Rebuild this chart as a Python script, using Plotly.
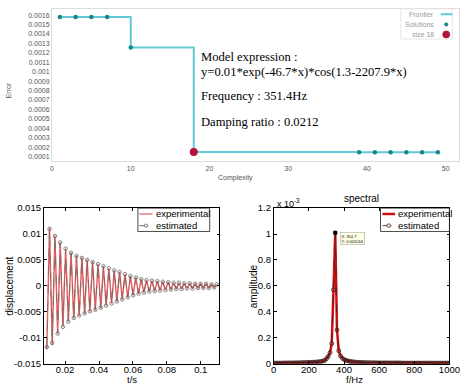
import plotly.graph_objects as go

# ---------------- Top panel: Pareto frontier ----------------
complexity = [1, 3, 5, 7, 10, 18, 39, 41, 43, 45, 47, 49]
error = [0.00158, 0.00158, 0.00158, 0.00158, 0.001255, 0.000150,
         0.000146, 0.000146, 0.000146, 0.000146, 0.000146, 0.000146]
selected_complexity = [18]
selected_error = [0.000150]
error_ticks = [0.0001, 0.0002, 0.0003, 0.0004, 0.0005, 0.0006, 0.0007, 0.0008,
               0.0009, 0.001, 0.0011, 0.0012, 0.0013, 0.0014, 0.0015, 0.0016]
error_tick_labels = ["0.0001", "0.0002", "0.0003", "0.0004", "0.0005", "0.0006",
                     "0.0007", "0.0008", "0.0009", "0.001", "0.0011", "0.0012",
                     "0.0013", "0.0014", "0.0015", "0.0016"]
complexity_ticks = [0, 10, 20, 30, 40, 50]
model_text = ["Model expression :",
              "y=0.01*exp(-46.7*x)*cos(1.3-2207.9*x)",
              "Frequency : 351.4Hz",
              "Damping ratio : 0.0212"]
top_legend_labels = ["Frontier", "Solutions", "size 18"]

# ---------------- Bottom-left: time response (extremes of the oscillation) ----------------
t_s = [0.0092, 0.0108, 0.0124, 0.0140, 0.0156, 0.0171, 0.0187, 0.0203, 0.0219, 0.0235,
       0.0251, 0.0267, 0.0283, 0.0299, 0.0315, 0.0330, 0.0346, 0.0362, 0.0378, 0.0394,
       0.0410, 0.0426, 0.0442, 0.0458, 0.0474, 0.0490, 0.0505, 0.0521, 0.0537, 0.0553,
       0.0569, 0.0585, 0.0601, 0.0617, 0.0633, 0.0649, 0.0664, 0.0680, 0.0696, 0.0712,
       0.0728, 0.0744, 0.0760, 0.0776, 0.0792, 0.0808, 0.0824, 0.0840, 0.0856, 0.0871,
       0.0887, 0.0903, 0.0919, 0.0935, 0.0951, 0.0967, 0.0983, 0.0999, 0.1015, 0.1031,
       0.1047, 0.1063, 0.1079, 0.1094]
disp_experimental = [-0.0122, 0.0112, -0.0114, 0.0097, -0.0092, 0.0083, -0.0078, 0.0070, -0.0068, 0.0064,
                     -0.0063, 0.0059, -0.0058, 0.0055, -0.0054, 0.0051, -0.0050, 0.0047, -0.0047, 0.0042,
                     -0.0043, 0.0038, -0.0038, 0.0034, -0.0034, 0.0030, -0.0030, 0.0027, -0.0026, 0.0023,
                     -0.0022, 0.0019, -0.0018, 0.0016, -0.0015, 0.0013, -0.0013, 0.0011, -0.0011, 0.0010,
                     -0.0010, 0.0009, -0.0009, 0.0008, -0.0008, 0.0007, -0.0007, 0.0006, -0.0006, 0.0006,
                     -0.0006, 0.0005, -0.0005, 0.0005, -0.0005, 0.0004, -0.0004, 0.0004, -0.0004, 0.0004,
                     -0.0004, 0.0003, -0.0003, 0.0003]
disp_estimated = [-0.0118, 0.0110, -0.0110, 0.0096, -0.0092, 0.0084, -0.0079, 0.0072, -0.0069, 0.0064,
                  -0.0062, 0.0058, -0.0057, 0.0054, -0.0053, 0.0050, -0.0049, 0.0046, -0.0046, 0.0042,
                  -0.0042, 0.0038, -0.0038, 0.0034, -0.0034, 0.0030, -0.0030, 0.0027, -0.0026, 0.0023,
                  -0.0022, 0.0019, -0.0018, 0.0016, -0.0015, 0.0013, -0.0013, 0.0011, -0.0011, 0.0010,
                  -0.0010, 0.0009, -0.0009, 0.0008, -0.0008, 0.0007, -0.0007, 0.0006, -0.0006, 0.0006,
                  -0.0006, 0.0005, -0.0005, 0.0005, -0.0005, 0.0004, -0.0004, 0.0004, -0.0004, 0.0004,
                  -0.0004, 0.0003, -0.0003, 0.0003]
disp_ticks = [-0.015, -0.01, -0.005, 0, 0.005, 0.01, 0.015]
disp_tick_labels = ["-0.015", "-0.01", "-0.005", "0", "0.005", "0.01", "0.015"]
t_ticks = [0.02, 0.04, 0.06, 0.08, 0.1]
t_tick_labels = ["0.02", "0.04", "0.06", "0.08", "0.1"]

# ---------------- Bottom-right: spectrum (amplitude in units of 1e-3) ----------------
freq_hz = list(range(0, 1001, 10))
amp_experimental = [0.004, 0.004, 0.004, 0.004, 0.004, 0.004, 0.005, 0.005, 0.005, 0.005, 0.005,
                    0.005, 0.006, 0.006, 0.006, 0.007, 0.007, 0.008, 0.008, 0.009, 0.009,
                    0.010, 0.010, 0.011, 0.012, 0.013, 0.015, 0.017, 0.020, 0.025, 0.038,
                    0.055, 0.085, 0.155, 0.570, 1.010, 0.260, 0.100, 0.060, 0.042, 0.032,
                    0.026, 0.021, 0.018, 0.016, 0.014, 0.012, 0.011, 0.010, 0.009, 0.009,
                    0.008, 0.008, 0.007, 0.007, 0.007, 0.006, 0.006, 0.006, 0.006, 0.005,
                    0.005, 0.005, 0.005, 0.005, 0.005, 0.005, 0.005, 0.005, 0.005, 0.005,
                    0.005, 0.005, 0.004, 0.004, 0.004, 0.004, 0.004, 0.004, 0.004, 0.004,
                    0.004, 0.004, 0.004, 0.004, 0.004, 0.004, 0.004, 0.004, 0.004, 0.004,
                    0.004, 0.004, 0.004, 0.004, 0.004, 0.004, 0.004, 0.004, 0.004, 0.004]
amp_estimated = [0.004, 0.004, 0.004, 0.004, 0.004, 0.004, 0.005, 0.005, 0.005, 0.005, 0.005,
                 0.005, 0.006, 0.006, 0.006, 0.007, 0.007, 0.008, 0.008, 0.009, 0.009,
                 0.010, 0.010, 0.011, 0.012, 0.013, 0.015, 0.017, 0.020, 0.025, 0.038,
                 0.055, 0.085, 0.155, 0.570, 1.010, 0.260, 0.100, 0.060, 0.042, 0.032,
                 0.026, 0.021, 0.018, 0.016, 0.014, 0.012, 0.011, 0.010, 0.009, 0.009,
                 0.008, 0.008, 0.007, 0.007, 0.007, 0.006, 0.006, 0.006, 0.006, 0.005,
                 0.005, 0.005, 0.005, 0.005, 0.005, 0.005, 0.005, 0.005, 0.005, 0.005,
                 0.005, 0.005, 0.004, 0.004, 0.004, 0.004, 0.004, 0.004, 0.004, 0.004,
                 0.004, 0.004, 0.004, 0.004, 0.004, 0.004, 0.004, 0.004, 0.004, 0.004,
                 0.004, 0.004, 0.004, 0.004, 0.004, 0.004, 0.004, 0.004, 0.004, 0.004]
peak_freq = [350]
peak_amp = [1.010]
datatip_text = "X: 354.7<br>Y: 0.001016"
amp_ticks = [0, 0.2, 0.4, 0.6, 0.8, 1.0, 1.2]
amp_tick_labels = ["0", "0.2", "0.4", "0.6", "0.8", "1", "1.2"]
freq_ticks = [0, 200, 400, 600, 800, 1000]
series_labels = ["experimental", "estimated"]

# ---------------- layout helpers ----------------
W, H = 474, 391


def fx(p):
    return p / W


def fy(p):
    return 1 - p / H


SANS = "Liberation Sans, Arial, sans-serif"
SERIF = "Liberation Serif, Times New Roman, serif"
CYAN = "#63c8d6"
TEAL = "#17878f"
RED_SEL = "#b5103a"
RED_T = "#e25c5c"
GRAY_T = "#6a6a6a"
RED_F = "#d01010"
DARK_F = "#3a2020"

fig = go.Figure()

# top panel
fig.add_trace(go.Scatter(x=complexity, y=error, mode="lines", line=dict(color=CYAN, width=2, shape="hv"),
                         xaxis="x", yaxis="y", hoverinfo="skip"))
fig.add_trace(go.Scatter(x=complexity, y=error, mode="markers", marker=dict(color=TEAL, size=4.5),
                         xaxis="x", yaxis="y"))
fig.add_trace(go.Scatter(x=selected_complexity, y=selected_error, mode="markers",
                         marker=dict(color=RED_SEL, size=8), xaxis="x", yaxis="y"))

# bottom-left
fig.add_trace(go.Scatter(x=t_s, y=disp_experimental, mode="lines", name=series_labels[0],
                         line=dict(color=RED_T, width=1.4), xaxis="x2", yaxis="y2"))
fig.add_trace(go.Scatter(x=t_s, y=disp_estimated, mode="lines+markers", name=series_labels[1],
                         line=dict(color=GRAY_T, width=1, dash="dash"),
                         marker=dict(symbol="circle-open", size=3.5, color="#5a5a5a", line=dict(width=1)),
                         opacity=0.75, xaxis="x2", yaxis="y2"))

# bottom-right
fig.add_trace(go.Scatter(x=freq_hz, y=amp_experimental, mode="lines", name=series_labels[0],
                         line=dict(color=RED_F, width=2.5), xaxis="x3", yaxis="y3"))
fig.add_trace(go.Scatter(x=freq_hz, y=amp_estimated, mode="lines+markers", name=series_labels[1],
                         line=dict(color=DARK_F, width=0.8, dash="dash"),
                         marker=dict(symbol="circle-open", size=4, color=DARK_F, line=dict(width=0.8)),
                         xaxis="x3", yaxis="y3"))
fig.add_trace(go.Scatter(x=peak_freq, y=peak_amp, mode="markers",
                         marker=dict(symbol="square", size=3.5, color="black"),
                         xaxis="x3", yaxis="y3"))

top_axis_common = dict(showgrid=False, zeroline=False, showline=True, linecolor="#dcdcdc",
                       linewidth=1, mirror=True, ticks="",
                       tickfont=dict(family=SANS, size=7, color="#555555"))
matlab_axis = dict(showgrid=False, zeroline=False, showline=True, linecolor="black", linewidth=0.8,
                   mirror="ticks", ticks="inside", ticklen=3, tickcolor="black", tickwidth=0.8,
                   tickfont=dict(family=SANS, size=9.5, color="black"))

fig.update_layout(
    width=W, height=H,
    margin=dict(l=0, r=0, t=0, b=0),
    paper_bgcolor="white", plot_bgcolor="white",
    showlegend=False,
    xaxis=dict(domain=[fx(50.5), fx(470)], range=[0, 51.7], tickvals=complexity_ticks,
               anchor="y", **top_axis_common),
    yaxis=dict(domain=[fy(160), fy(3)], range=[0.0000485, 0.001665], tickvals=error_ticks,
               ticktext=error_tick_labels, anchor="x", **top_axis_common),
    xaxis2=dict(domain=[fx(42), fx(223)], range=[0.0074, 0.111], tickvals=t_ticks,
                ticktext=t_tick_labels, anchor="y2", ticklabelstandoff=-3, **matlab_axis),
    yaxis2=dict(domain=[fy(368), fy(208)], range=[-0.015, 0.015], tickvals=disp_ticks,
                ticktext=disp_tick_labels, anchor="x2", **matlab_axis),
    xaxis3=dict(domain=[fx(279), fx(460)], range=[0, 1000], tickvals=freq_ticks,
                anchor="y3", ticklabelstandoff=-3, **matlab_axis),
    yaxis3=dict(domain=[fy(368), fy(208)], range=[0, 1.2], tickvals=amp_ticks,
                ticktext=amp_tick_labels, anchor="x3", **matlab_axis),
)


def label(text, x, y, size, color="black", family=SANS, xanchor="center", yanchor="middle", angle=0, **kw):
    return dict(text=text, x=fx(x), y=fy(y), xref="paper", yref="paper", xanchor=xanchor,
                yanchor=yanchor, showarrow=False, textangle=angle,
                font=dict(family=family, size=size, color=color), **kw)


ann = []
for txt, yy in zip(model_text, [52, 68, 93, 119]):
    ann.append(label(txt, 202, yy, 12.6, family=SERIF, xanchor="left"))
ann.append(label("Error", 6, 87, 7, color="#555555", angle=-90))
ann.append(label("Complexity", 240, 177, 7, color="#555555"))
for lab, yy in zip(top_legend_labels, [8.5, 19, 29.3]):
    ann.append(label(lab, 446, yy, 7, color="#9a9a9a", xanchor="right"))
ann.append(label("displacement", 7, 288, 10, angle=-90))
ann.append(label("t/s", 133, 391, 9.5, yanchor="bottom", borderpad=0))
ann.append(label("amplitude", 259, 288, 10, angle=-90))
ann.append(label("f/Hz", 362, 391, 9.5, yanchor="bottom", borderpad=0))
ann.append(label("spectral", 369, 198, 10))
ann.append(label("x 10<sup>-3</sup>", 280, 203, 9, xanchor="left"))
ann.append(label(datatip_text, 347, 239, 4, xanchor="left", align="left", bgcolor="#ffffe6",
                 bordercolor="#999999", borderwidth=0.5, borderpad=1))
# legends of the bottom panels
for lab, yy in zip(series_labels, [214, 226]):
    ann.append(label(lab, 156, yy, 9.5, xanchor="left"))
    ann.append(label(lab, 405, yy, 9.5, xanchor="left"))
fig.update_layout(annotations=ann)


def pline(x0, x1, y, color, width, dash="solid"):
    return dict(type="line", xref="paper", yref="paper", x0=fx(x0), x1=fx(x1), y0=fy(y), y1=fy(y),
                line=dict(color=color, width=width, dash=dash))


def pcircle(cx, cy, r, color, fill):
    return dict(type="circle", xref="paper", yref="paper", x0=fx(cx - r), x1=fx(cx + r),
                y0=fy(cy + r), y1=fy(cy - r), line=dict(color=color, width=0.8), fillcolor=fill)


def prect(x0, x1, y0, y1, color, width, fill="white"):
    return dict(type="rect", xref="paper", yref="paper", x0=fx(x0), x1=fx(x1), y0=fy(y1), y1=fy(y0),
                line=dict(color=color, width=width), fillcolor=fill, layer="above")


shapes = [
    # top legend
    prect(410, 463, 3, 34, "#e6e6e6", 1, "rgba(255,255,255,0.9)"),
    pline(451, 463, 8.5, CYAN, 2),
    pcircle(456.7, 19, 1.7, TEAL, TEAL),
    pcircle(456.7, 29.3, 3.6, RED_SEL, RED_SEL),
    # bottom-left legend
    prect(139, 213, 208, 232, "black", 0.7),
    pline(140.5, 154, 214, RED_T, 1.2),
    pline(140.5, 154, 226, GRAY_T, 1, "dash"),
    pcircle(147.3, 226, 1.6, "#555555", "white"),
    # bottom-right legend
    prect(389, 460, 208, 232, "black", 0.7),
    pline(391, 404, 214, RED_F, 2.5),
    pline(391, 404, 226, DARK_F, 0.8, "dash"),
    pcircle(397.5, 226, 1.8, DARK_F, "white"),
]
fig.update_layout(shapes=shapes)

fig.write_html("out.html", config={"displayModeBar": False},
               post_script="document.body.style.margin='0px';")
